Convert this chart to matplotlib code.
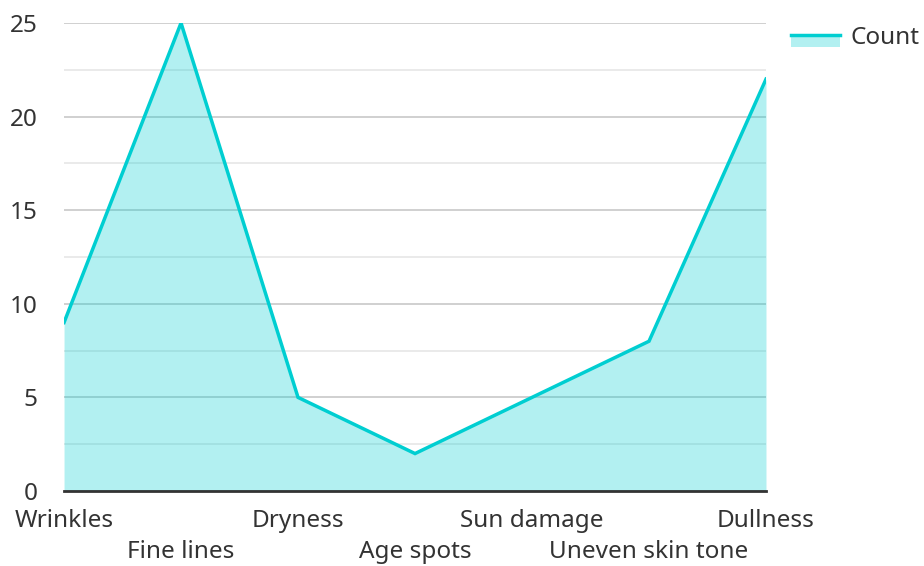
import matplotlib.pyplot as plt
from matplotlib.patches import Rectangle
from matplotlib.lines import Line2D
from matplotlib.legend_handler import HandlerBase
import numpy as np

plt.rcParams['font.family'] = ['Noto Sans', 'DejaVu Sans']

categories = ["Wrinkles", "Fine lines", "Dryness", "Age spots",
              "Sun damage", "Uneven skin tone", "Dullness"]
counts = [9, 25, 5, 2, 5, 8, 22]
series_name = "Count"

line_color = "#00CED1"
text_color = "#333333"
fs = 17.5


class AreaHandler(HandlerBase):
    # line on top edge of a light patch, like the reference legend
    def create_artists(self, legend, orig_handle, xdescent, ydescent,
                       width, height, fontsize, trans):
        top = height * 0.5
        bottom = -height * 0.2
        patch = Rectangle((-xdescent, bottom - ydescent), width, top - bottom,
                          facecolor=line_color, alpha=0.3, edgecolor="none",
                          transform=trans)
        line = Line2D([-xdescent, -xdescent + width], [top - ydescent] * 2,
                      color=line_color, lw=2.5, transform=trans)
        return [patch, line]


fig = plt.figure(figsize=(9.24, 5.66), dpi=100)
ax = fig.add_axes([0.0693, 0.1325, 0.7597, 0.8269])

x = np.arange(len(categories))
ax.fill_between(x, counts, 0, color=line_color, alpha=0.3, lw=0, zorder=2)
ax.plot(x, counts, color=line_color, lw=2.5, zorder=3, solid_joinstyle="miter")

ax.set_xlim(0, len(categories) - 1)
ax.set_ylim(0, 25)
ax.set_yticks(np.arange(0, 26, 5))
ax.set_yticks(np.arange(2.5, 25, 5), minor=True)
ax.grid(axis="y", which="major", color="#c8c8c8", lw=1.2, zorder=1)
ax.grid(axis="y", which="minor", color="#e6e6e6", lw=1.2, zorder=1)
ax.set_axisbelow(True)

# staggered labels: even ones on the first row, odd ones on a second row
ax.set_xticks(x[::2])
ax.set_xticklabels(categories[::2])
ax.set_xticks(x[1::2], minor=True)
ax.set_xticklabels(categories[1::2], minor=True)
ax.tick_params(axis="x", which="major", length=0, pad=13, labelsize=fs,
               labelcolor=text_color)
ax.tick_params(axis="x", which="minor", length=0, pad=35.5, labelsize=fs,
               labelcolor=text_color)
ax.tick_params(axis="y", which="both", length=0, pad=19, labelsize=fs,
               labelcolor=text_color)

for side in ["left", "right", "top"]:
    ax.spines[side].set_visible(False)
ax.spines["bottom"].set_color(text_color)
ax.spines["bottom"].set_linewidth(2)
ax.spines["bottom"].set_zorder(4)

proxy = Rectangle((0, 0), 1, 1)
fig.legend([proxy], [series_name], handler_map={Rectangle: AreaHandler()},
           loc="upper left", bbox_to_anchor=(0.832, 0.993), frameon=False,
           fontsize=fs, handlelength=2.05, handletextpad=0.42,
           labelcolor=text_color)

fig.savefig("out.png", dpi=100)
